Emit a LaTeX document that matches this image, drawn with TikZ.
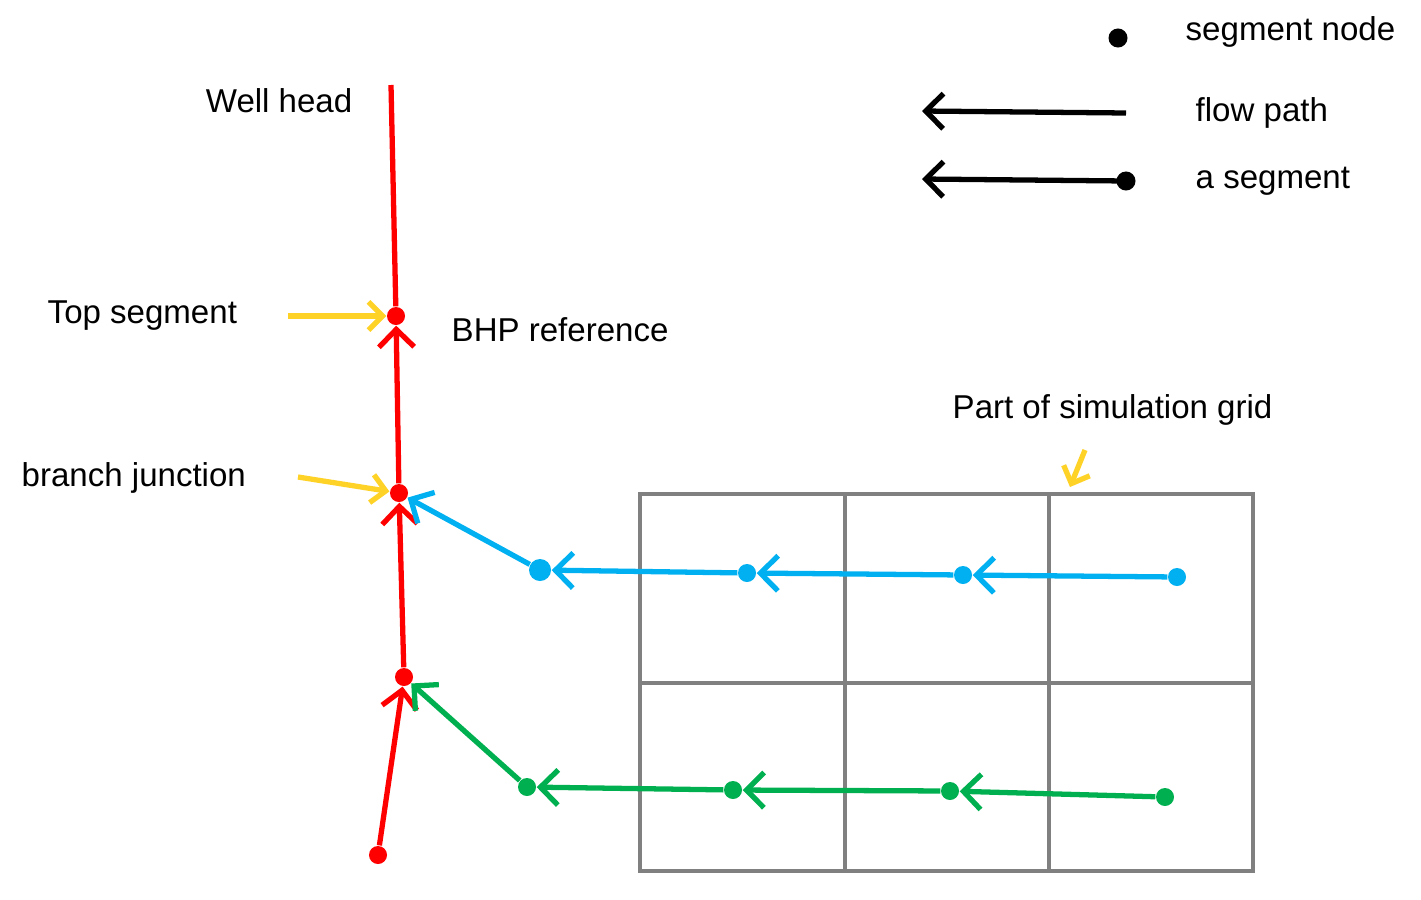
\documentclass[tikz,border=0pt]{standalone}
\usepackage{fontspec}
\setmainfont{Liberation Sans}
\usetikzlibrary{arrows.meta}
\definecolor{wred}{RGB}{255,0,0}
\definecolor{wblue}{RGB}{0,176,240}
\definecolor{wgreen}{RGB}{0,176,80}
\definecolor{wyel}{RGB}{255,210,40}
\definecolor{wgrid}{RGB}{128,128,128}
\begin{document}
\begin{tikzpicture}[x=0.01cm,y=-0.01cm,
 dot/.style={circle, fill=#1, inner sep=0pt, minimum size=0.18cm},
 seg/.style={draw=#1, line width=1.5pt, arrows={-Straight Barb[length=5pt,width=10pt]}},
 yarr/.style={draw=wyel, line width=1.5pt, arrows={-Straight Barb[length=4pt,width=8pt]}},
 lbl/.style={font=\fontsize{9.4pt}{11pt}\selectfont, inner sep=0pt}]
\useasboundingbox (0,0) rectangle (1421,900);
% grid
\draw[wgrid, line width=1.1pt] (640,494) rectangle (1253,871);
\draw[wgrid, line width=1.1pt] (845,494) -- (845,871) (1049,494) -- (1049,871) (640,683) -- (1253,683);
% well
\coordinate (wh) at (391,85);
\node[dot=wred] (top) at (396,316) {};
\node[dot=wred] (bj) at (399,493) {};
\node[dot=wred] (gj) at (404,677) {};
\node[dot=wred] (toe) at (378,855) {};
\draw[wred, line width=1.5pt] (top) -- (wh);
\draw[seg=wred] (bj) -- (top);
\draw[seg=wred] (gj) -- (bj);
\draw[seg=wred] (toe) -- (gj);
% blue branch
\node[dot=wblue, minimum size=0.22cm] (b1) at (540,570) {};
\node[dot=wblue] (b2) at (747,573) {};
\node[dot=wblue] (b3) at (963,575) {};
\node[dot=wblue] (b4) at (1177,577) {};
\draw[seg=wblue] (b4) -- (b3);
\draw[seg=wblue] (b3) -- (b2);
\draw[seg=wblue] (b2) -- (b1);
\draw[seg=wblue] (b1) -- (bj);
% green branch
\node[dot=wgreen] (g1) at (527,787) {};
\node[dot=wgreen] (g2) at (733,790) {};
\node[dot=wgreen] (g3) at (950,791) {};
\node[dot=wgreen] (g4) at (1165,797) {};
\draw[seg=wgreen] (g4) -- (g3);
\draw[seg=wgreen] (g3) -- (g2);
\draw[seg=wgreen] (g2) -- (g1);
\draw[seg=wgreen] (g1) -- (gj);
% labels
\node[lbl, anchor=east] (lwh) at (353,101) {Well head};
\node[lbl, anchor=west] (lts) at (47,316) {Top segment};
\node[lbl, anchor=west] (lbhp) at (451,330) {BHP reference};
\node[lbl, anchor=west] (lbj) at (21,478) {branch junction};
\node[lbl, anchor=west] (lgr) at (952,410) {Part of simulation grid};
% yellow pointers
\coordinate (y1) at (288,316);
\coordinate (y2) at (298,477);
\coordinate (y3) at (1085,450);
\coordinate (y3e) at (1070,487);
\draw[yarr] (y1) -- (top);
\draw[yarr] (y2) -- (bj);
\draw[yarr] (y3) -- (y3e);
% legend
\node[circle, fill=black, inner sep=0pt, minimum size=0.19cm] (ld) at (1118,38) {};
\node[lbl, anchor=west] (lsn) at (1185,32) {segment node};
\coordinate (fa) at (1126,113);
\coordinate (fb) at (922,111);
\draw[seg=black] (fa) -- (fb);
\node[lbl, anchor=west] (lfp) at (1195,113) {flow path};
\node[circle, fill=black, inner sep=0pt, minimum size=0.19cm] (sa) at (1126,181) {};
\coordinate (sb) at (922,179);
\draw[seg=black] (sa.center) -- (sb);
\node[lbl, anchor=west] (las) at (1195,181) {a segment};
\end{tikzpicture}
\end{document}
